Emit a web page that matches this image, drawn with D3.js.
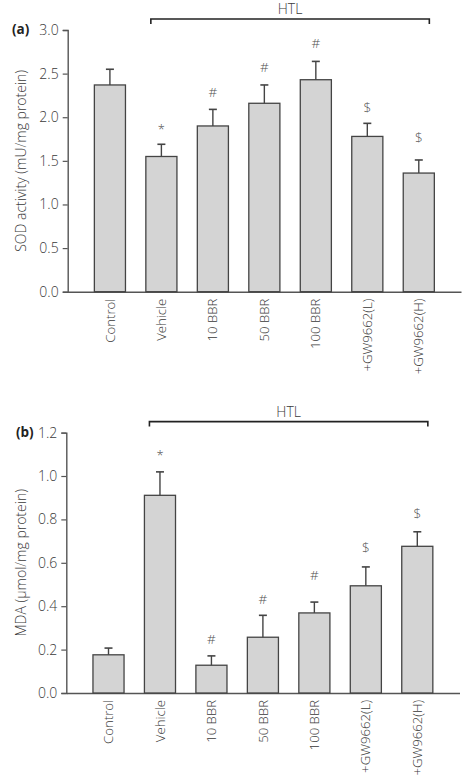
<!DOCTYPE html>
<html><head><meta charset="utf-8">
<script src="https://cdn.jsdelivr.net/npm/d3@7"></script>
<style>
body{margin:0;background:#fff;}
text{font-family:"Open Sans",sans-serif;}
</style></head>
<body><svg id="c" width="474" height="784"></svg>
<script>
const categories = ["Control","Vehicle","10 BBR","50 BBR","100 BBR","+GW9662(L)","+GW9662(H)"];
const sodValues = [2.37, 1.55, 1.90, 2.16, 2.43, 1.78, 1.36];
const sodErrors = [0.18, 0.14, 0.19, 0.21, 0.21, 0.15, 0.15];
const sodMarks = ["", "*", "#", "#", "#", "$", "$"];
const sodMarkLevels = [null, 1.89, 2.29, 2.58, 2.85, 2.12, 1.77];
const sodTicks = [0, 0.5, 1.0, 1.5, 2.0, 2.5, 3.0];
const mdaValues = [0.176, 0.911, 0.128, 0.257, 0.369, 0.494, 0.676];
const mdaErrors = [0.031, 0.108, 0.043, 0.101, 0.050, 0.087, 0.067];
const mdaMarks = ["", "*", "#", "#", "#", "$", "$"];
const mdaMarkLevels = [null, 1.107, 0.249, 0.433, 0.544, 0.674, 0.831];
const mdaTicks = [0, 0.2, 0.4, 0.6, 0.8, 1.0, 1.2];
const groupLabel = "HTL";

const svg = d3.select("#c");
const textCol = "#3a3a3a", axisCol = "#555";

function panel(opt){
  const g = svg.append("g");
  const x = d3.scaleBand().domain(categories).range([opt.x0, opt.x1]).paddingInner(0.396).paddingOuter(0.518);
  const y = d3.scaleLinear().domain([0, opt.max]).range([opt.base, opt.top]);
  // y axis
  const ya = g.append("g").attr("transform",`translate(${opt.x0},0)`)
    .call(d3.axisLeft(y).tickValues(opt.ticks).tickFormat(d3.format(".1f")).tickSize(5).tickPadding(4));
  ya.select(".domain").attr("stroke",axisCol).attr("stroke-width",1.4);
  ya.selectAll(".tick line").attr("stroke",axisCol).attr("stroke-width",1.2);
  ya.selectAll(".tick text").attr("fill",textCol).attr("font-size",14).attr("font-weight",300).attr("font-family","Open Sans");
  // x axis
  const xa = g.append("g").attr("transform",`translate(0,${opt.base})`)
    .call(d3.axisBottom(x).tickSize(0).tickPadding(0));
  xa.select(".domain").attr("stroke",axisCol).attr("stroke-width",1.4);
  xa.selectAll(".tick text").attr("fill",textCol).attr("font-size",13.2).attr("font-weight",300).attr("font-family","Open Sans")
    .attr("text-anchor","end").attr("transform","translate(0,7) rotate(-90)").attr("dy","0.35em").attr("dx",0).attr("y",0).attr("x",0);
  // bars
  g.selectAll("rect.bar").data(opt.values).join("rect")
    .attr("x",(d,i)=>x(categories[i])).attr("width",x.bandwidth())
    .attr("y",d=>y(d)).attr("height",d=>opt.base-y(d))
    .attr("fill","#d4d4d4").attr("stroke","#444").attr("stroke-width",1.3);
  // error bars
  const cx = i => x(categories[i]) + x.bandwidth()/2;
  g.selectAll("line.err").data(opt.values).join("line")
    .attr("x1",(d,i)=>cx(i)).attr("x2",(d,i)=>cx(i))
    .attr("y1",d=>y(d)).attr("y2",(d,i)=>y(d+opt.errors[i]))
    .attr("stroke","#444").attr("stroke-width",1.4);
  g.selectAll("line.cap").data(opt.values).join("line")
    .attr("x1",(d,i)=>cx(i)-4).attr("x2",(d,i)=>cx(i)+4)
    .attr("y1",(d,i)=>y(d+opt.errors[i])).attr("y2",(d,i)=>y(d+opt.errors[i]))
    .attr("stroke","#444").attr("stroke-width",1.6);
  // marks
  g.selectAll("text.mark").data(opt.marks).join("text")
    .attr("x",(d,i)=>cx(i)).attr("y",(d,i)=> opt.markLevels[i]==null?0:y(opt.markLevels[i]) + (d==="*"?7:5))
    .attr("text-anchor","middle").attr("font-size",d=>d==="*"?13:13.5).attr("font-weight",300).attr("fill","#505050")
    .text(d=>d);
  // bracket
  const bx0 = x(categories[1]) + 5, bx1 = x(categories[categories.length-1]) + x.bandwidth() - 5;
  const by = opt.top - 11;
  g.append("path").attr("d",`M${bx0},${by+5}V${by}H${bx1}V${by+5}`)
    .attr("fill","none").attr("stroke","#222").attr("stroke-width",1.6);
  g.append("text").attr("x",(bx0+bx1)/2).attr("y",by-5).attr("text-anchor","middle")
    .attr("font-size",14).attr("font-weight",300).attr("fill",textCol).text(groupLabel);
  // y title
  g.append("text").attr("transform",`translate(21,${(opt.top+opt.base)/2}) rotate(-90)`)
    .attr("text-anchor","middle").attr("dy","0.35em").attr("font-size",14).attr("font-weight",300).attr("fill",textCol).text(opt.title);
  // panel label
  g.append("text").attr("x",opt.lx).attr("y",opt.top+4).attr("font-size",13.5).attr("font-weight","bold")
    .attr("fill","#222").text(opt.label);
}

panel({x0:67.7, x1:461, base:291.7, top:30, max:3.0, ticks:sodTicks, values:sodValues, errors:sodErrors,
  marks:sodMarks, markLevels:sodMarkLevels, title:"SOD activity (mU/mg protein)", label:"(a)", lx:12});
panel({x0:66.3, x1:459.5, base:693, top:432.6, max:1.2, ticks:mdaTicks, values:mdaValues, errors:mdaErrors,
  marks:mdaMarks, markLevels:mdaMarkLevels, title:"MDA (μmol/mg protein)", label:"(b)", lx:16});
</script></body></html>
